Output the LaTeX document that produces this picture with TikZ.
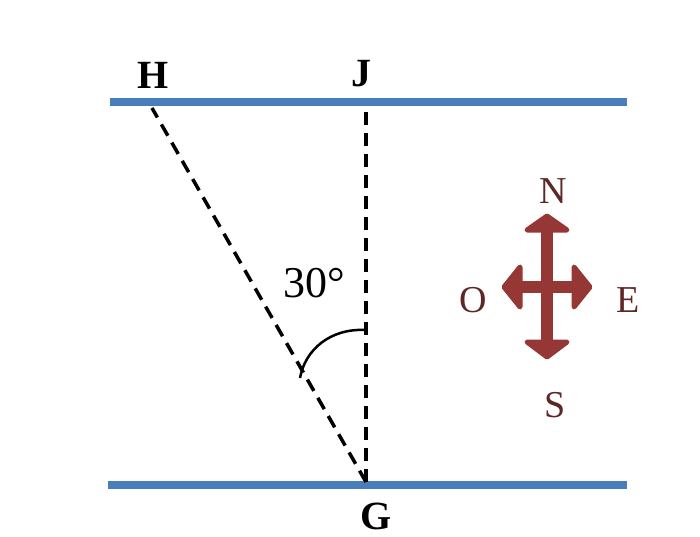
\documentclass[tikz,border=0pt]{standalone}
\usepackage{fontspec}
\setmainfont{Liberation Serif}
\definecolor{lineblue}{HTML}{4A7EBB}
\definecolor{compred}{HTML}{953735}
\definecolor{comptext}{HTML}{5E2726}
\begin{document}
\begin{tikzpicture}[x=1pt,y=-1pt,
  bank/.style={draw=lineblue,line width=8pt},
  dline/.style={draw=black,line width=3.5pt,dash pattern=on 13pt off 8pt},
  ptlabel/.style={font=\fontsize{40}{40}\selectfont\bfseries,inner sep=0pt},
  dirlabel/.style={font=\fontsize{38}{38}\selectfont,text=comptext,inner sep=0pt},
  shaft/.style={draw=compred,line width=12pt},
  head/.style={fill=compred,draw=compred,line width=5pt,line join=round}]
\useasboundingbox (0,0) rectangle (700,537);
% banks
\coordinate (TL) at (110,102);
\coordinate (TR) at (627,102);
\coordinate (BL) at (108,485);
\coordinate (BR) at (627,485);
\draw[bank] (TL) -- (TR);
\draw[bank] (BL) -- (BR);
% points
\coordinate (h) at (152,108);
\coordinate (j) at (366,106);
\coordinate (g) at (366,482);
\draw[dline] (g) -- (j);
\draw[dline] (g) -- (h);
\node[ptlabel] (H) at (153,75) {H};
\node[ptlabel] (J) at (361,74) {J};
\node[ptlabel] (G) at (376,516) {G};
% angle
\coordinate (a1) at (366,330);
\coordinate (a2) at (300,378);
\draw[line width=2.5pt] (a1) .. controls (330,328) and (305,350) .. (a2);
\node[font=\fontsize{44}{44}\selectfont,inner sep=0pt] (ang) at (314,283) {30°};
% compass
\coordinate (C) at (547,287);
\draw[shaft] (547,228) -- (547,345);
\draw[shaft] (518,287) -- (577,287);
\filldraw[head] (547,216) -- (567,230) -- (527,230) -- cycle;
\filldraw[head] (547,357) -- (567,342) -- (527,342) -- cycle;
\filldraw[head] (504,287) -- (520,267) -- (520,307) -- cycle;
\filldraw[head] (590,287) -- (574,267) -- (574,307) -- cycle;
\node[dirlabel] (N) at (553,191) {N};
\node[dirlabel] (O) at (473,300) {O};
\node[dirlabel] (E) at (628,300) {E};
\node[dirlabel] (S) at (555,405) {S};
\end{tikzpicture}
\end{document}
